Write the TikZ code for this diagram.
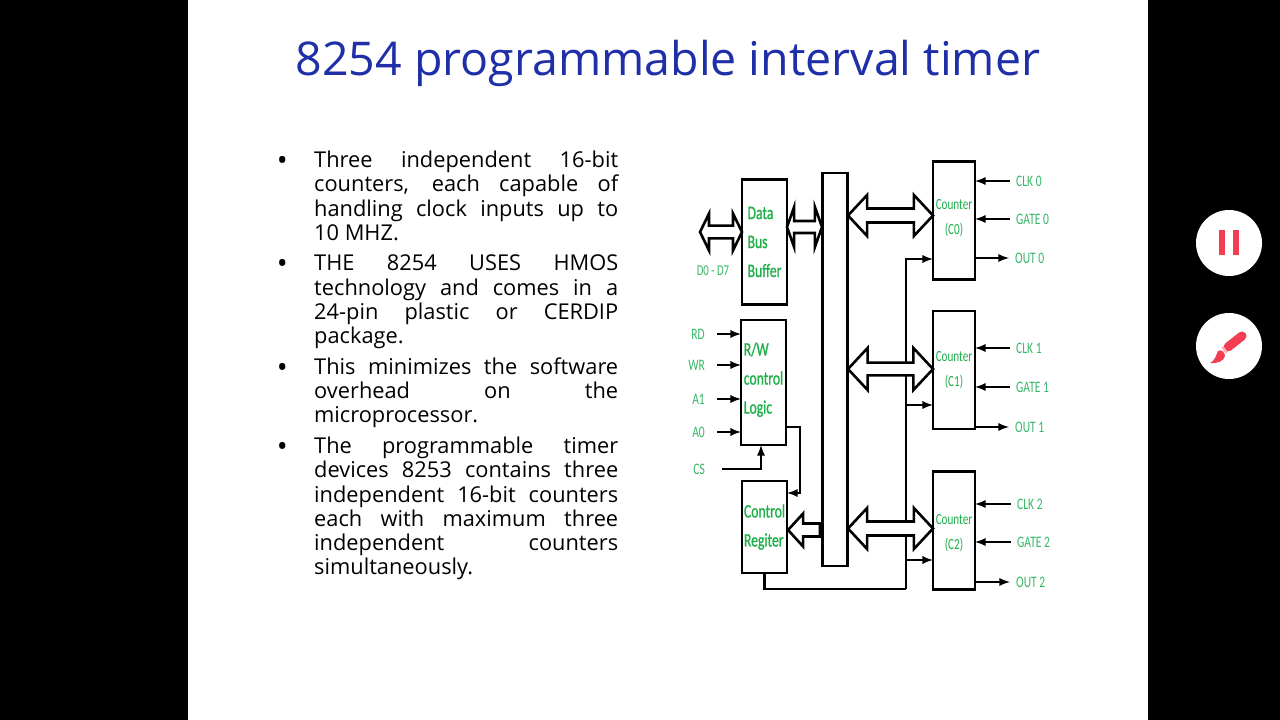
\documentclass[tikz,border=0pt]{standalone}
\usepackage{xcolor}
\usepackage{fontspec}
\usetikzlibrary{shapes.arrows}
\setmainfont{Open Sans}
\newfontfamily\pinfont[FakeStretch=0.72]{Carlito}
\newfontfamily\boxfont[FakeStretch=0.72,FakeBold=1]{Carlito}
\definecolor{titleblue}{HTML}{1F2FA8}
\definecolor{pingreen}{HTML}{35B868}
\definecolor{boxgreen}{HTML}{1FB04A}
\definecolor{btnred}{HTML}{F23D52}
\begin{document}
\begin{tikzpicture}[x=1pt,y=-1pt,
    block/.style={draw, line width=2.6pt, rectangle, inner sep=0pt, outer sep=0pt, align=left, text=boxgreen, font=\boxfont\fontsize{19}{29}\selectfont},
    counter/.style={draw, line width=2.6pt, rectangle, inner sep=0pt, outer sep=0pt, minimum width=42pt, minimum height=118pt, align=center, text=boxgreen, font=\pinfont\fontsize{15.5}{25}\selectfont},
    busarrow/.style={draw, line width=2.6pt, fill=white, double arrow, inner sep=0pt, outer sep=0pt},
    ctlarrow/.style={draw, line width=2.6pt, fill=white, single arrow, inner sep=0pt, outer sep=0pt},
    pinr/.style={anchor=west, inner ysep=0pt, inner xsep=6pt, text=pingreen, font=\pinfont\fontsize{16}{16}\selectfont},
    pinl/.style={anchor=east, inner ysep=0pt, inner xsep=12pt, text=pingreen, font=\pinfont\fontsize{16}{16}\selectfont},
    sig/.style={-latex, line width=2.6pt},
    wire/.style={line width=2.6pt}]
  \useasboundingbox (0,0) rectangle (1280,720);
  \fill[black] (0,0) rectangle (1280,720);
  \fill[white] (188,0) rectangle (1148,720);

  \node[text=titleblue, font=\fontsize{46.5}{50}\selectfont] (title) at (668,63) {8254 programmable interval timer};

  \node[anchor=north west, inner sep=0pt, text width=340pt, align=justify, font=\fontsize{21.8}{24.3}\selectfont] (points) at (278,143) {%
    \begin{list}{\makebox[0pt]{\raisebox{-3pt}{\fontsize{29}{29}\selectfont\textbullet}}}{\setlength{\leftmargin}{36pt}\setlength{\labelwidth}{0pt}\setlength{\labelsep}{32pt}\setlength{\itemsep}{6.2pt}\setlength{\parsep}{0pt}\setlength{\topsep}{0pt}\setlength{\partopsep}{0pt}}
    \item Three independent 16-bit\linebreak counters, each capable of\linebreak handling clock inputs up to\linebreak 10 MHZ.
    \item THE 8254 USES HMOS\linebreak technology and comes in a\linebreak 24-pin plastic or CERDIP\linebreak package.
    \item This minimizes the software\linebreak overhead on the\linebreak microprocessor.
    \item The programmable timer\linebreak devices 8253 contains three\linebreak independent 16-bit counters\linebreak each with maximum three\linebreak independent counters\linebreak simultaneously.
    \end{list}};

  \node[block, minimum width=45pt, minimum height=125pt] (dbb) at (764.5,242) {Data\\Bus\\Buffer};
  \node[block, minimum width=45pt, minimum height=125pt, text depth=9pt] (rw) at (763.5,382.5) {R/W\\control\\Logic};
  \node[block, minimum width=45pt, minimum height=92pt] (creg) at (764.5,527) {Control\\Regiter};
  \node[draw, line width=2.6pt, minimum width=25pt, minimum height=393pt, inner sep=0pt, outer sep=0pt] (bus) at (835,369.5) {};
  \node[counter, text depth=7pt] (c0) at (954,220.5) {Counter\\(C0)};
  \node[counter] (c1) at (954,370) {Counter\\(C1)};
  \node[counter, text height=41pt] (c2) at (954,530.5) {Counter\\(C2)};

  \coordinate (trunk) at (906,589);
  \coordinate (c0in) at (933,259);
  \coordinate (t1) at (906,405);
  \coordinate (c1in) at (933,405);
  \coordinate (t2) at (906,560);
  \coordinate (c2in) at (933,560);
  \draw[wire] (creg.south) |- (trunk);
  \draw[sig] (trunk) |- (c0in);
  \draw[sig] (t1) -- (c1in);
  \draw[sig] (t2) -- (c2in);

  \node[busarrow, minimum height=42pt, minimum width=37pt, double arrow head extend=2.5pt, double arrow tip angle=128] (dd) at (721,232) {};
  \node[busarrow, minimum height=35pt, minimum width=40pt, double arrow head extend=3pt, double arrow tip angle=141] (db) at (804.5,227) {};
  \node[busarrow, minimum height=85pt, minimum width=41pt, double arrow head extend=2.5pt, double arrow tip angle=94] (b0) at (890.5,215.5) {};
  \node[busarrow, minimum height=85pt, minimum width=42pt, double arrow head extend=3pt, double arrow tip angle=94] (b1) at (890.5,369) {};
  \node[busarrow, minimum height=85pt, minimum width=41pt, double arrow head extend=2.5pt, double arrow tip angle=94] (b2) at (890.5,528.5) {};
  \node[ctlarrow, shape border rotate=180, minimum height=32pt, minimum width=33pt, single arrow head extend=2pt, single arrow tip angle=95] (bc) at (807,530) {};

  \node[text=pingreen, font=\pinfont\fontsize{15}{15}\selectfont] (dlabel) at (713,271) {D0 - D7};

  \node[pinl] (rd) at (717,334) {RD};
  \node[pinl] (wr) at (717,365) {WR};
  \node[pinl] (a1) at (717,399) {A1};
  \node[pinl] (a0) at (717,432) {A0};
  \node[pinl, inner xsep=17pt] (cs) at (722,469) {CS};
  \foreach \p in {rd,wr,a1,a0} {
    \draw[sig] (\p.east) -- (rw.west |- \p.east);
  }
  \coordinate (rwcs) at (761,445);
  \draw[sig] (cs.east) -| (rwcs);
  \coordinate (rwout) at (786,427);
  \coordinate (cregin) at (787,493);
  \coordinate (elbow) at (800,427);
  \draw[sig] (rwout) -- (elbow) |- (cregin);

  \node[pinr] (clk0) at (1010,181) {CLK 0};
  \node[pinr] (gate0) at (1010,219) {GATE 0};
  \node[pinr] (out0) at (1009,258) {OUT 0};
  \node[pinr] (clk1) at (1010,348) {CLK 1};
  \node[pinr] (gate1) at (1010,387) {GATE 1};
  \node[pinr] (out1) at (1009,427) {OUT 1};
  \node[pinr] (clk2) at (1011,504) {CLK 2};
  \node[pinr] (gate2) at (1011,542) {GATE 2};
  \node[pinr] (out2) at (1010,582) {OUT 2};
  \foreach \n in {0,1,2} {
    \draw[sig] (clk\n.west) -- (c\n.east |- clk\n.west);
    \draw[sig] (gate\n.west) -- (c\n.east |- gate\n.west);
    \draw[sig] (c\n.east |- out\n.west) -- (out\n.west);
  }

  \fill[white] (1229,243) circle (33);
  \fill[btnred] (1219,230) rectangle (1225,255);
  \fill[btnred] (1233,230) rectangle (1239,255);
  \fill[white] (1229,346) circle (33);
  \draw[btnred, line width=9pt, line cap=round] (1228,347) -- (1242,336);
  \draw[btnred!40, line width=7pt] (1223.5,350.5) -- (1225.5,349);
  \fill[btnred] (1210,363) .. controls (1215,361) and (1216,355) .. (1218,351) .. controls (1221,349) and (1225,352) .. (1225,356) .. controls (1224,361) and (1217,364) .. (1210,363);
\end{tikzpicture}
\end{document}
